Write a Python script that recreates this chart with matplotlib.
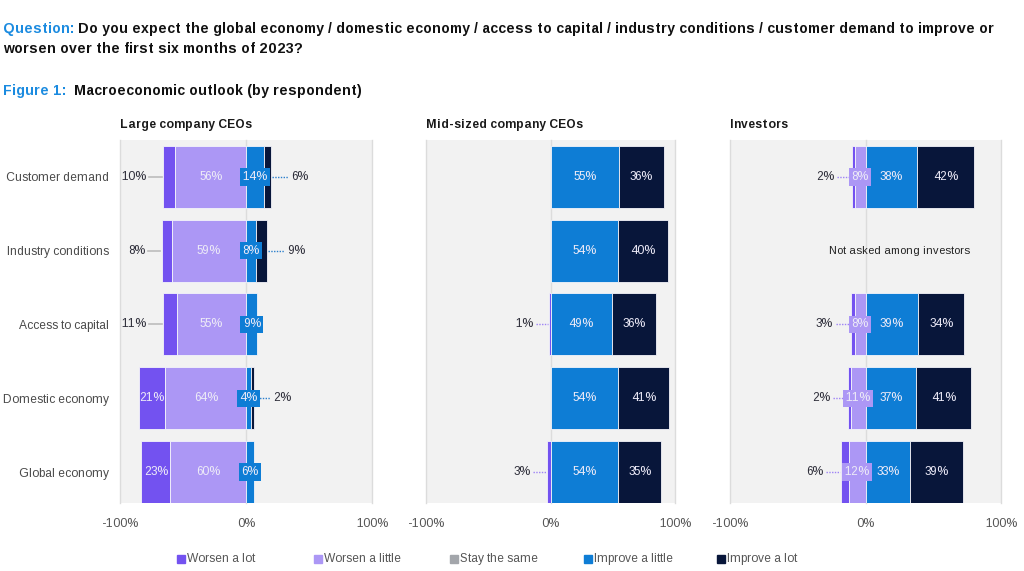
import matplotlib
matplotlib.use('Agg')
import matplotlib.pyplot as plt
import numpy as np
from matplotlib.patches import Rectangle

plt.rcParams['font.family'] = ['Liberation Sans', 'DejaVu Sans']
plt.rcParams['text.hinting_factor'] = 1

# ---------------- data ----------------
categories = ["Customer demand", "Industry conditions", "Access to capital",
              "Domestic economy", "Global economy"]
series = ["Worsen a lot", "Worsen a little", "Stay the same",
          "Improve a little", "Improve a lot"]
colors = ["#7352F0", "#AC97F5", "#A3A6AB", "#0E7DD5", "#08163A"]
xticks = [-100, 0, 100]
xticklabels = ["-100%", "0%", "100%"]
panel_titles = ["Large company CEOs", "Mid-sized company CEOs", "Investors"]

nan = np.nan
large_worsen_lot = [10, 8, 11, 21, 23]
large_worsen_little = [56, 59, 55, 64, 60]
large_improve_little = [14, 8, 9, 4, 6]
large_improve_lot = [6, 9, 0, 2, 0]

mid_worsen_lot = [0, 0, 1, 0, 3]
mid_worsen_little = [0, 0, 0, 0, 0]
mid_improve_little = [55, 54, 49, 54, 54]
mid_improve_lot = [36, 40, 36, 41, 35]

inv_worsen_lot = [2, nan, 3, 2, 6]
inv_worsen_little = [8, nan, 8, 11, 12]
inv_improve_little = [38, nan, 39, 37, 33]
inv_improve_lot = [42, nan, 34, 41, 39]
not_asked_text = "Not asked among investors"

panels = [
    (large_worsen_lot, large_worsen_little, large_improve_little, large_improve_lot),
    (mid_worsen_lot, mid_worsen_little, mid_improve_little, mid_improve_lot),
    (inv_worsen_lot, inv_worsen_little, inv_improve_little, inv_improve_lot),
]

# ---------------- layout ----------------
W, H = 1024, 571
fig = plt.figure(figsize=(W / 100, H / 100), dpi=100)


def fx(px):
    return px / W


def fy(py):
    return 1 - py / H


panel_px = [(120, 372), (426, 675), (730, 1001)]
top_px, bot_px = 140, 503
inside_col = "#ECEAF7"
out_col = "#2E2E3A"
lab_size = 8.6

for p, (vals, (l, r)) in enumerate(zip(panels, panel_px)):
    wl, wli, il, ilot = [np.array(v, dtype=float) for v in vals]
    ax = fig.add_axes([fx(l), fy(bot_px), fx(r - l), fy(top_px) - fy(bot_px)])
    ax.set_facecolor("#F2F2F2")
    ax.set_xlim(-100, 100)
    ax.set_ylim(4.42, -0.5)
    for s in ax.spines.values():
        s.set_visible(False)
    for xv in xticks:
        ax.axvline(xv, color="#DCDCDC", lw=1.0, zorder=0.5, clip_on=False)
    ax.set_xticks(xticks)
    ax.set_xticklabels(xticklabels)
    ypos = np.arange(len(categories))
    ax.set_yticks(ypos)
    if p == 0:
        ax.set_yticklabels(categories)
    else:
        ax.set_yticklabels([])
    ax.tick_params(axis="x", length=0, labelsize=8.3, labelcolor="#555555", pad=11)
    ax.tick_params(axis="y", length=0, labelsize=8.3, labelcolor="#4A4A4A", pad=8)

    segs = [
        (0, wl, -(np.nan_to_num(wl) + np.nan_to_num(wli))),
        (1, wli, -np.nan_to_num(wli)),
        (3, il, np.zeros(5)),
        (4, ilot, np.nan_to_num(il)),
    ]
    bh = 0.84
    for si, v, left in segs:
        for i in range(5):
            if np.isnan(v[i]) or v[i] <= 0:
                continue
            ax.barh(ypos[i], v[i], left=left[i], height=bh, color=colors[si],
                    edgecolor="#F4F4FA", linewidth=0.6, zorder=2)
            val = int(v[i])
            txt = f"{val}%"
            cx = left[i] + v[i] / 2
            if v[i] >= 15:
                ax.text(cx, ypos[i], txt, ha="center", va="center", fontsize=lab_size,
                        color=inside_col, zorder=4)
            elif si == 0:
                start = left[i]
                if p == 0:
                    ax.plot([start - 11, start - 1], [ypos[i], ypos[i]],
                            color="#BDBDBD", lw=1.2, zorder=3)
                else:
                    ax.plot([start - 11, start - 1], [ypos[i], ypos[i]],
                            color="#9E82F5", lw=1.0, ls=(0, (1, 1)), zorder=3)
                ax.text(start - 13, ypos[i], txt, ha="right", va="center",
                        fontsize=lab_size, color=out_col, zorder=4)
            elif si == 4:
                end = left[i] + v[i]
                ax.plot([end + 0.5, end + 13], [ypos[i], ypos[i]],
                        color="#2B7FCC", lw=1.0, ls=(0, (1, 1)), zorder=3)
                ax.text(end + 15.5, ypos[i], txt, ha="left", va="center",
                        fontsize=lab_size, color=out_col, zorder=4)
            else:
                ax.text(cx, ypos[i], txt, ha="center", va="center", fontsize=lab_size,
                        color=inside_col, zorder=4,
                        bbox=dict(boxstyle="square,pad=0.22", fc=colors[si],
                                  ec="none"))
    if p == 2:
        ax.text(25, 1, not_asked_text, ha="center", va="center", fontsize=7.6,
                color="#222222", zorder=4)

    fig.text(fx(l), fy(128), panel_titles[p], ha="left", va="baseline",
             fontsize=8.8, fontweight="bold", color="#1A1A1A")

# ---------------- header ----------------
blue_head = "#1B8BE0"
renderer = fig.canvas.get_renderer()


def two_part(y, first, rest, size):
    t1 = fig.text(fx(3), fy(y), first, ha="left", va="baseline", fontsize=size,
                  fontweight="bold", color=blue_head)
    bb = t1.get_window_extent(renderer=renderer)
    fig.text(bb.x1 / W, fy(y), rest, ha="left", va="baseline", fontsize=size,
             fontweight="bold", color="#111111")


head_size = 10.3
two_part(33, "Question:", " Do you expect the global economy / domestic economy / "
         "access to capital / industry conditions / customer demand to improve or", head_size)
fig.text(fx(3), fy(53), "worsen over the first six months of 2023?", ha="left",
         va="baseline", fontsize=head_size, fontweight="bold", color="#111111")
two_part(95, "Figure 1:", "  Macroeconomic outlook (by respondent)", head_size)

# ---------------- legend ----------------
leg_x = [181, 318, 454, 588, 721]
leg_y = 559
for name, c, x in zip(series, colors, leg_x):
    fig.add_artist(Rectangle((fx(x - 4), fy(leg_y + 4)), fx(8), fy(leg_y - 4) - fy(leg_y + 4),
                             transform=fig.transFigure, color=c))
    fig.text(fx(x + 6), fy(leg_y), name, ha="left", va="center", fontsize=8.3,
             color="#555555")

fig.savefig("out.png", dpi=100)
